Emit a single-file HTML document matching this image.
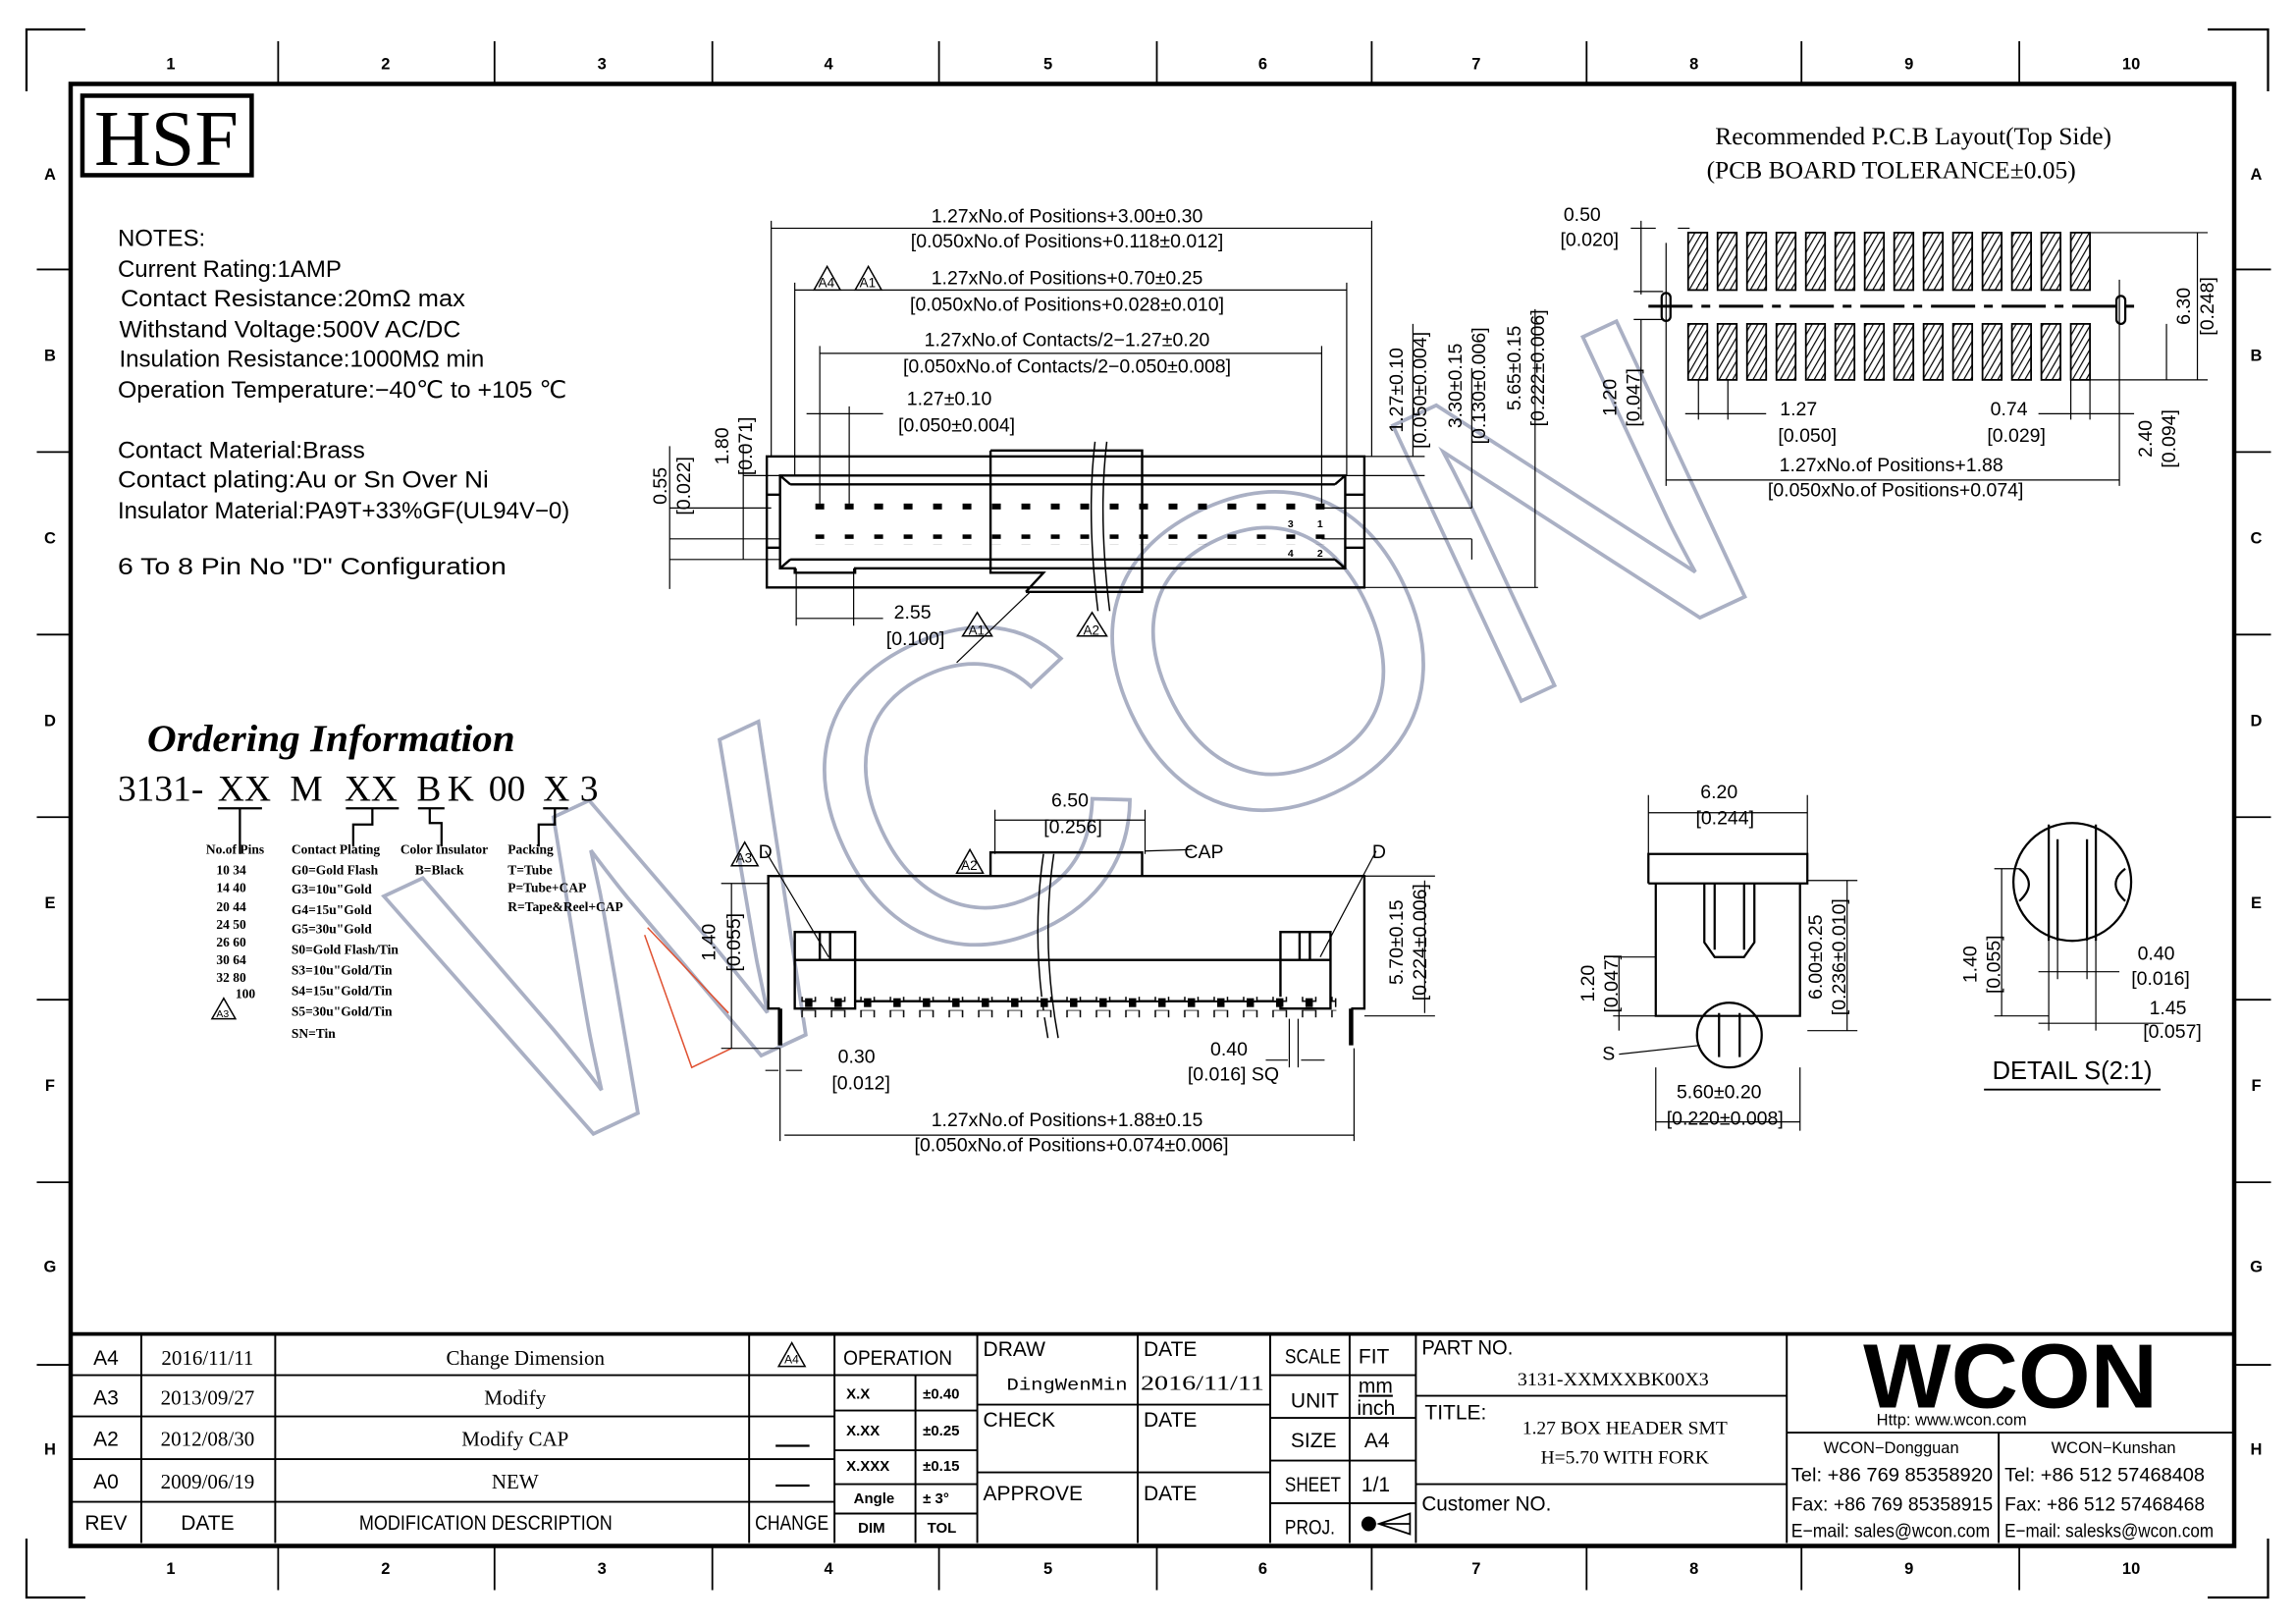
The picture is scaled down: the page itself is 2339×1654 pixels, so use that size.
<!DOCTYPE html>
<html><head><meta charset="utf-8"><style>
html,body{margin:0;padding:0;background:#fff;width:2339px;height:1654px;overflow:hidden}
svg{display:block}
text{font-family:"Liberation Sans Narrow","Liberation Sans",sans-serif;fill:#000}
.s{font-family:"Liberation Serif",serif}
</style></head><body>
<svg width="2339" height="1654" viewBox="0 0 1560 1103" preserveAspectRatio="none" xmlns="http://www.w3.org/2000/svg">
<defs>
<pattern id="pins" x="554" y="0" width="20" height="10" patternUnits="userSpaceOnUse"><rect x="0" y="0" width="6" height="6" fill="#000"/></pattern>
<pattern id="hatch" width="4" height="4" patternUnits="userSpaceOnUse" patternTransform="rotate(30)"><rect width="4" height="4" fill="#fff"/><line x1="0" y1="0" x2="0" y2="4" stroke="#000" stroke-width="1.6"/></pattern>
<pattern id="teeth" x="0" y="0" width="20" height="14" patternUnits="userSpaceOnUse"><rect x="5" y="0" width="9" height="8" fill="#fff" stroke="#000" stroke-width="1"/><rect x="7" y="6" width="5" height="6" fill="#000"/></pattern>
</defs>
<rect width="1560" height="1103" fill="#fff"/>
<g transform="translate(735,505) rotate(-25)"><text x="0" y="100" text-anchor="middle" font-size="300" style="font-family:'Liberation Sans',sans-serif;fill:none;stroke:#aab0c4;stroke-width:2.5">WCON</text></g>
<g stroke="#000" fill="none">
<path d="M18,62V20H58M1500,20H1541V62M18,1045V1085H58M1500,1085H1541V1045" stroke-width="1.5"/>
<rect x="48" y="57" width="1470" height="993" stroke-width="3"/>
<path d="M189,28V57M336,28V57M484,28V57M638,28V57M786,28V57M932,28V57M1078,28V57M1224,28V57M1372,28V57M189,1050V1080M336,1050V1080M484,1050V1080M638,1050V1080M786,1050V1080M932,1050V1080M1078,1050V1080M1224,1050V1080M1372,1050V1080" stroke-width="1.2"/>
<path d="M25,183H48M25,307H48M25,431H48M25,555H48M25,679H48M25,803H48M25,927H48M1518,183H1543M1518,307H1543M1518,431H1543M1518,555H1543M1518,679H1543M1518,803H1543M1518,927H1543" stroke-width="1.2"/>
<rect x="56" y="65" width="115" height="54" stroke-width="3"/>
</g>
<g font-size="11" font-weight="bold" text-anchor="middle">
<text x="116" y="47">1</text><text x="262" y="47">2</text><text x="409" y="47">3</text><text x="563" y="47">4</text><text x="712" y="47">5</text><text x="858" y="47">6</text><text x="1003" y="47">7</text><text x="1151" y="47">8</text><text x="1297" y="47">9</text><text x="1448" y="47">10</text>
<text x="116" y="1069">1</text><text x="262" y="1069">2</text><text x="409" y="1069">3</text><text x="563" y="1069">4</text><text x="712" y="1069">5</text><text x="858" y="1069">6</text><text x="1003" y="1069">7</text><text x="1151" y="1069">8</text><text x="1297" y="1069">9</text><text x="1448" y="1069">10</text>
<text x="34" y="122">A</text><text x="34" y="245">B</text><text x="34" y="369">C</text><text x="34" y="493">D</text><text x="34" y="617">E</text><text x="34" y="741">F</text><text x="34" y="864">G</text><text x="34" y="988">H</text>
<text x="1533" y="122">A</text><text x="1533" y="245">B</text><text x="1533" y="369">C</text><text x="1533" y="493">D</text><text x="1533" y="617">E</text><text x="1533" y="741">F</text><text x="1533" y="864">G</text><text x="1533" y="988">H</text>
</g>
<text class="s" x="113" y="112" font-size="54" text-anchor="middle" textLength="98" lengthAdjust="spacingAndGlyphs">HSF</text>
<g font-size="16">
<text x="80" y="167">NOTES:</text>
<text x="80" y="188" textLength="152" lengthAdjust="spacingAndGlyphs">Current  Rating:1AMP</text>
<text x="82" y="208" textLength="234" lengthAdjust="spacingAndGlyphs">Contact  Resistance:20mΩ  max</text>
<text x="81" y="229" textLength="232" lengthAdjust="spacingAndGlyphs">Withstand  Voltage:500V  AC/DC</text>
<text x="81" y="249" textLength="248" lengthAdjust="spacingAndGlyphs">Insulation  Resistance:1000MΩ min</text>
<text x="80" y="270" textLength="305" lengthAdjust="spacingAndGlyphs">Operation  Temperature:−40℃  to  +105 ℃</text>
<text x="80" y="311" textLength="168" lengthAdjust="spacingAndGlyphs">Contact  Material:Brass</text>
<text x="80" y="331" textLength="252" lengthAdjust="spacingAndGlyphs">Contact  plating:Au  or  Sn  Over  Ni</text>
<text x="80" y="352" textLength="307" lengthAdjust="spacingAndGlyphs">Insulator  Material:PA9T+33%GF(UL94V−0)</text>
<text x="80" y="390" textLength="264" lengthAdjust="spacingAndGlyphs">6  To  8  Pin  No  "D"  Configuration</text>
</g>
<text class="s" x="100" y="510" font-size="26" font-weight="bold" font-style="italic" textLength="250" lengthAdjust="spacingAndGlyphs">Ordering Information</text>
<g font-size="25">
<text class="s" x="80" y="544">3131-</text><text class="s" x="148" y="544">XX</text><text class="s" x="197" y="544">M</text><text class="s" x="234" y="544">XX</text><text class="s" x="283" y="544">B</text><text class="s" x="304" y="544">K</text><text class="s" x="332" y="544">00</text><text class="s" x="369" y="544">X</text><text class="s" x="394" y="544">3</text>
</g>
<g stroke="#000" stroke-width="1.5" fill="none">
<path d="M148,549H178M235,549H271M284,549H302M369,549H386"/>
<path d="M163,549V580M253,549V560H240V575M292,549V559H300V575M377,549V560H366V575"/>
</g>
<g font-size="9" font-weight="bold">
<text x="140" y="580" class="s">No.of Pins</text>
<text x="147" y="594" class="s">10  34</text><text x="147" y="606" class="s">14  40</text><text x="147" y="619" class="s">20  44</text><text x="147" y="631" class="s">24  50</text><text x="147" y="643" class="s">26  60</text><text x="147" y="655" class="s">30  64</text><text x="147" y="667" class="s">32  80</text><text x="160" y="678" class="s">100</text>
<text x="198" y="580" class="s">Contact Plating</text>
<text x="198" y="594" class="s">G0=Gold Flash</text><text x="198" y="607" class="s">G3=10u"Gold</text><text x="198" y="621" class="s">G4=15u"Gold</text><text x="198" y="634" class="s">G5=30u"Gold</text><text x="198" y="648" class="s">S0=Gold Flash/Tin</text><text x="198" y="662" class="s">S3=10u"Gold/Tin</text><text x="198" y="676" class="s">S4=15u"Gold/Tin</text><text x="198" y="690" class="s">S5=30u"Gold/Tin</text><text x="198" y="705" class="s">SN=Tin</text>
<text x="272" y="580" class="s">Color Insulator</text><text x="282" y="594" class="s">B=Black</text>
<text x="345" y="580" class="s">Packing</text><text x="345" y="594" class="s">T=Tube</text><text x="345" y="606" class="s">P=Tube+CAP</text><text x="345" y="619" class="s">R=Tape&amp;Reel+CAP</text>
</g>
<g fill="none" stroke="#000" stroke-width="1"><path d="M152,678L144,692H160Z"/></g><text x="147" y="691" font-size="7">A3</text>
<path d="M438,635L470,725L497,712M440,630L495,688" stroke="#e05030" stroke-width="1" fill="none"/>

<g stroke="#000" fill="none" stroke-width="1.6">
<rect x="521" y="310" width="406" height="89"/>
<path d="M530,323H914V386H581V389H540V386H530Z"/>
<path d="M537,329H907M537,380H907M530,323L537,329M914,323L907,329M530,386L537,380M914,386L907,380"/>
<path d="M521,336H530M521,372H530M914,336H927M914,372H927"/>
<path d="M673,306H776V402H697"/>
<path d="M673,306V389H709L697,402"/>
<path d="M744,300Q738,350 746,415M752,300Q746,350 754,415" stroke-width="1"/>
</g>
<rect x="551" y="342" width="350" height="7" fill="url(#pins)"/>
<rect x="551" y="363" width="350" height="7" fill="url(#pins)"/>
<g font-size="7" font-weight="bold"><text x="875" y="358">3</text><text x="895" y="358">1</text><text x="875" y="378">4</text><text x="895" y="378">2</text></g>
<g stroke="#000" stroke-width="0.8" fill="none">
<path d="M524,150V310M932,150V310M524,155H932M540,192V323M915,192V323M540,197H915M557,235V342M898,235V342M557,240H898M557,276V342M577,276V342M548,281H600"/>
<path d="M914,310H968M914,323H968M898,345H1000M898,366H1000M927,399H1045M960,220V310M1000,250V345M1000,366V380M1043,210V399"/>
<path d="M455,345H524M455,366H530M455,380H530M455,303V400M505,323H530M505,303V380M541,386V425M580,386V425M541,420H600"/>
<path d="M650,450L700,402"/>
</g>
<g font-size="13" text-anchor="middle">
<text x="725" y="151">1.27xNo.of Positions+3.00±0.30</text>
<text x="725" y="168">[0.050xNo.of Positions+0.118±0.012]</text>
<text x="725" y="193">1.27xNo.of Positions+0.70±0.25</text>
<text x="725" y="211">[0.050xNo.of Positions+0.028±0.010]</text>
<text x="725" y="235">1.27xNo.of Contacts/2−1.27±0.20</text>
<text x="725" y="253">[0.050xNo.of Contacts/2−0.050±0.008]</text>
<text x="645" y="275">1.27±0.10</text>
<text x="650" y="293">[0.050±0.004]</text>
<text x="620" y="420">2.55</text>
<text x="622" y="438">[0.100]</text>
<text transform="translate(953,265) rotate(-90)">1.27±0.10</text>
<text transform="translate(969,265) rotate(-90)">[0.050±0.004]</text>
<text transform="translate(993,262) rotate(-90)">3.30±0.15</text>
<text transform="translate(1009,262) rotate(-90)">[0.130±0.006]</text>
<text transform="translate(1033,250) rotate(-90)">5.65±0.15</text>
<text transform="translate(1049,250) rotate(-90)">[0.222±0.006]</text>
<text transform="translate(453,330) rotate(-90)">0.55</text>
<text transform="translate(469,330) rotate(-90)">[0.022]</text>
<text transform="translate(495,303) rotate(-90)">1.80</text>
<text transform="translate(511,303) rotate(-90)">[0.071]</text>
</g>
<g fill="none" stroke="#000" stroke-width="1"><path d="M562,181L553,197H571ZM590,181L581,197H599ZM664,416L654,432H674ZM742,416L732,432H752Z"/></g>
<g font-size="9"><text x="556" y="195">A4</text><text x="584" y="195">A1</text><text x="658" y="431">A1</text><text x="736" y="431">A2</text></g>

<g stroke="#000" fill="none" stroke-width="1.6">
<path d="M530,685H522V595H927V685H918"/>
<path d="M673,595V579H776V595"/>
<rect x="540" y="633" width="41" height="52"/><rect x="870" y="633" width="34" height="52"/>
<path d="M540,652H581M870,652H904M581,652H870M557,633V652M564,633V652M883,633V652M890,633V652"/>
<path d="M581,680H870"/>
<path d="M530,685V710M918,685V710" stroke-width="3"/>
<path d="M709,580Q700,640 712,705M716,580Q707,640 719,705" stroke-width="1"/>
</g>
<rect x="540" y="677" width="368" height="14" fill="url(#teeth)"/>
<g stroke="#000" stroke-width="0.8" fill="none">
<path d="M676,550V580M778,550V580M676,557H778M778,578L810,577M520,578L563,650M935,578L897,650"/>
<path d="M927,595H975M927,690H975M968,598V688M497,600V712M490,600H522M490,712H530"/>
<path d="M530,712V775M920,712V775M533,771H920M520,727H529M534,727H545"/>
<path d="M876,692V725M882,692V725M860,720H875M884,720H900"/>
</g>
<g font-size="13" text-anchor="middle">
<text x="727" y="548">6.50</text><text x="729" y="566">[0.256]</text>
<text x="818" y="583">CAP</text>
<text x="520" y="583">D</text><text x="937" y="583">D</text>
<text x="582" y="722">0.30</text><text x="585" y="740">[0.012]</text>
<text x="835" y="717">0.40</text><text x="838" y="734">[0.016] SQ</text>
<text x="725" y="765">1.27xNo.of Positions+1.88±0.15</text>
<text x="728" y="782">[0.050xNo.of Positions+0.074±0.006]</text>
<text transform="translate(953,640) rotate(-90)">5.70±0.15</text>
<text transform="translate(969,640) rotate(-90)">[0.224±0.006]</text>
<text transform="translate(486,640) rotate(-90)">1.40</text>
<text transform="translate(503,640) rotate(-90)">[0.055]</text>
</g>
<g fill="none" stroke="#000" stroke-width="1"><path d="M506,572L497,588H515ZM659,577L650,593H668Z"/></g>
<g font-size="9"><text x="500" y="586">A3</text><text x="653" y="591">A2</text></g>

<text class="s" x="1300" y="98" font-size="17" text-anchor="middle">Recommended P.C.B Layout(Top Side)</text>
<text class="s" x="1285" y="121" font-size="17" text-anchor="middle">(PCB BOARD TOLERANCE±0.05)</text>
<g stroke="#000" stroke-width="1.2" fill="url(#hatch)">
<rect x="1147" y="158" width="13" height="39"/><rect x="1167" y="158" width="13" height="39"/><rect x="1187" y="158" width="13" height="39"/><rect x="1207" y="158" width="13" height="39"/><rect x="1227" y="158" width="13" height="39"/><rect x="1247" y="158" width="13" height="39"/><rect x="1267" y="158" width="13" height="39"/><rect x="1287" y="158" width="13" height="39"/><rect x="1307" y="158" width="13" height="39"/><rect x="1327" y="158" width="13" height="39"/><rect x="1347" y="158" width="13" height="39"/><rect x="1367" y="158" width="13" height="39"/><rect x="1387" y="158" width="13" height="39"/><rect x="1407" y="158" width="13" height="39"/>
<rect x="1147" y="220" width="13" height="38"/><rect x="1167" y="220" width="13" height="38"/><rect x="1187" y="220" width="13" height="38"/><rect x="1207" y="220" width="13" height="38"/><rect x="1227" y="220" width="13" height="38"/><rect x="1247" y="220" width="13" height="38"/><rect x="1267" y="220" width="13" height="38"/><rect x="1287" y="220" width="13" height="38"/><rect x="1307" y="220" width="13" height="38"/><rect x="1327" y="220" width="13" height="38"/><rect x="1347" y="220" width="13" height="38"/><rect x="1367" y="220" width="13" height="38"/><rect x="1387" y="220" width="13" height="38"/><rect x="1407" y="220" width="13" height="38"/>
</g>
<g stroke="#000" fill="none">
<path d="M1120,208H1455" stroke-width="2" stroke-dasharray="30,6,6,6"/>
<rect x="1129" y="199" width="6" height="19" rx="3" stroke-width="1.5"/><rect x="1438" y="201" width="6" height="19" rx="3" stroke-width="1.5"/>
<g stroke-width="0.8">
<path d="M1132,165V330M1440,190V330M1108,155H1125M1140,155H1148M1110,198H1130M1110,217H1130M1115,200V150M1115,217V285"/>
<path d="M1420,158H1500M1420,258H1500M1493,158V258M1420,258H1480M1472,220V258M1154,258V285M1174,258V285M1145,281H1200M1407,258V285M1420,258V285M1385,281H1450M1132,326H1440"/>
</g></g>
<g font-size="13" text-anchor="middle">
<text x="1075" y="150">0.50</text><text x="1080" y="167">[0.020]</text>
<text x="1222" y="282">1.27</text><text x="1228" y="300">[0.050]</text>
<text x="1365" y="282">0.74</text><text x="1370" y="300">[0.029]</text>
<text x="1285" y="320">1.27xNo.of Positions+1.88</text>
<text x="1288" y="337">[0.050xNo.of Positions+0.074]</text>
<text transform="translate(1098,270) rotate(-90)">1.20</text><text transform="translate(1114,270) rotate(-90)">[0.047]</text>
<text transform="translate(1488,208) rotate(-90)">6.30</text><text transform="translate(1504,208) rotate(-90)">[0.248]</text>
<text transform="translate(1462,298) rotate(-90)">2.40</text><text transform="translate(1478,298) rotate(-90)">[0.094]</text>
</g>

<g stroke="#000" fill="none" stroke-width="1.5">
<path d="M1120,600V580H1228V600H1120M1125,600V690H1223V600"/>
<path d="M1158,600V640L1165,650H1185L1192,640V600M1165,600V645M1185,600V645"/>
<circle cx="1175" cy="703" r="22"/><path d="M1168,688V718M1182,688V718"/>
</g>
<g stroke="#000" stroke-width="0.8" fill="none"><path d="M1120,540V580M1228,540V580M1120,552H1228M1228,598H1262M1228,700H1262M1255,598V700M1100,650V700M1096,650H1125M1096,690H1125M1100,716L1155,710M1125,725V768M1223,725V768M1125,762H1223"/></g>
<g font-size="13" text-anchor="middle">
<text x="1168" y="542">6.20</text><text x="1172" y="560">[0.244]</text>
<text x="1093" y="720">S</text>
<text x="1168" y="746">5.60±0.20</text><text x="1172" y="764">[0.220±0.008]</text>
<text transform="translate(1238,650) rotate(-90)">6.00±0.25</text><text transform="translate(1254,650) rotate(-90)">[0.236±0.010]</text>
<text transform="translate(1083,668) rotate(-90)">1.20</text><text transform="translate(1099,668) rotate(-90)">[0.047]</text>
</g>
<g stroke="#000" fill="none" stroke-width="1.5">
<circle cx="1408" cy="599" r="40"/>
<path d="M1392,560V639M1424,560V639M1398,570V639M1418,570V639M1372,590Q1385,600 1372,612M1444,590Q1431,600 1444,612"/>
</g>
<g stroke="#000" stroke-width="0.8" fill="none"><path d="M1360,590V690M1355,590H1372M1355,690H1392M1398,639V665M1418,639V665M1385,660H1440M1392,639V700M1424,639V700M1385,695H1470"/></g>
<g font-size="13" text-anchor="middle">
<text x="1465" y="652">0.40</text><text x="1468" y="669">[0.016]</text>
<text x="1473" y="689">1.45</text><text x="1476" y="705">[0.057]</text>
<text transform="translate(1343,655) rotate(-90)">1.40</text><text transform="translate(1359,655) rotate(-90)">[0.055]</text>
<text x="1408" y="733" font-size="17">DETAIL  S(2:1)</text>
</g>
<path d="M1348,740H1468" stroke="#000" stroke-width="1.2"/>

<g stroke="#000" fill="none" stroke-width="1.3">
<path d="M48,906H1518" stroke-width="2.5"/>
<path d="M48,934H664M48,962H567M48,991H567M48,1020H567M96,906V1048M187,906V1048M509,906V1048M567,906V1048M664,906V1048"/>
<path d="M567,934H664M567,958H664M567,985H664M567,1008H664M567,1028H664M622,934V1048"/>
<path d="M664,954H863M664,1000H863M773,906V1048M863,906V1048M917,906V1048M962,906V1048"/>
<path d="M863,934H962M863,963H962M863,992H962M863,1021H962"/>
<path d="M962,948H1214M962,1008H1214M1214,906V1048M1214,973H1518M1358,973V1048"/>
</g>
<g font-size="14" text-anchor="middle">
<text x="72" y="927">A4</text><text x="141" y="927" class="s">2016/11/11</text><text x="357" y="927" class="s">Change Dimension</text>
<text x="72" y="954">A3</text><text x="141" y="954" class="s">2013/09/27</text><text x="350" y="954" class="s">Modify</text>
<text x="72" y="982">A2</text><text x="141" y="982" class="s">2012/08/30</text><text x="350" y="982" class="s">Modify CAP</text>
<text x="72" y="1011">A0</text><text x="141" y="1011" class="s">2009/06/19</text><text x="350" y="1011" class="s">NEW</text>
<text x="72" y="1039">REV</text><text x="141" y="1039">DATE</text><text x="330" y="1039" textLength="172" lengthAdjust="spacingAndGlyphs">MODIFICATION DESCRIPTION</text><text x="538" y="1039" textLength="50" lengthAdjust="spacingAndGlyphs">CHANGE</text>
<text x="610" y="927" textLength="74" lengthAdjust="spacingAndGlyphs">OPERATION</text>
</g>
<path d="M527,982H550M527,1009H550" stroke="#000" stroke-width="1.5"/>
<path d="M538,912L529,928H547Z" fill="none" stroke="#000"/><text x="533" y="926" font-size="8">A4</text>
<g font-size="10" font-weight="bold">
<text x="575" y="950">X.X</text><text x="627" y="950">±0.40</text>
<text x="575" y="975">X.XX</text><text x="627" y="975">±0.25</text>
<text x="575" y="999">X.XXX</text><text x="627" y="999">±0.15</text>
<text x="580" y="1021">Angle</text><text x="627" y="1021">± 3°</text>
<text x="583" y="1041">DIM</text><text x="630" y="1041">TOL</text>
</g>
<g font-size="14">
<text x="668" y="921">DRAW</text><text x="777" y="921">DATE</text>
<text x="684" y="944" style="font-family:'Liberation Mono',monospace" font-size="12" textLength="82" lengthAdjust="spacingAndGlyphs">DingWenMin</text><text x="775" y="944" class="s" textLength="84" lengthAdjust="spacingAndGlyphs">2016/11/11</text>
<text x="668" y="969">CHECK</text><text x="777" y="969">DATE</text>
<text x="668" y="1019">APPROVE</text><text x="777" y="1019">DATE</text>
<text x="873" y="926" textLength="38" lengthAdjust="spacingAndGlyphs">SCALE</text><text x="923" y="926">FIT</text>
<text x="877" y="956">UNIT</text><text x="923" y="946" text-decoration="underline">mm</text><text x="922" y="961" textLength="26" lengthAdjust="spacingAndGlyphs">inch</text>
<text x="877" y="983">SIZE</text><text x="927" y="983">A4</text>
<text x="873" y="1013" textLength="38" lengthAdjust="spacingAndGlyphs">SHEET</text><text x="925" y="1013">1/1</text>
<text x="873" y="1042" textLength="34" lengthAdjust="spacingAndGlyphs">PROJ.</text>
<text x="966" y="920" textLength="62" lengthAdjust="spacingAndGlyphs">PART NO.</text>
<text x="1096" y="941" class="s" font-size="13" text-anchor="middle" textLength="130" lengthAdjust="spacingAndGlyphs">3131-XXMXXBK00X3</text>
<text x="968" y="964">TITLE:</text>
<text x="1104" y="974" text-anchor="middle" class="s" font-size="13">1.27 BOX HEADER SMT</text>
<text x="1104" y="994" text-anchor="middle" class="s" font-size="13">H=5.70 WITH FORK</text>
<text x="966" y="1026" textLength="88" lengthAdjust="spacingAndGlyphs">Customer NO.</text>
</g>
<circle cx="930" cy="1035" r="5" fill="#000"/><path d="M937,1035L958,1028V1042Z M937,1035H958" fill="none" stroke="#000" stroke-width="1.2"/>
<text x="1366" y="956" font-size="62" font-weight="bold" text-anchor="middle" textLength="200" lengthAdjust="spacingAndGlyphs" style="font-family:'Liberation Sans',sans-serif">WCON</text>
<g font-size="11" text-anchor="middle"><text x="1326" y="968">Http: www.wcon.com</text><text x="1285" y="987">WCON−Dongguan</text><text x="1436" y="987">WCON−Kunshan</text></g>
<g font-size="13">
<text x="1217" y="1006" textLength="137" lengthAdjust="spacingAndGlyphs">Tel: +86 769 85358920</text><text x="1362" y="1006" textLength="136" lengthAdjust="spacingAndGlyphs">Tel: +86 512 57468408</text>
<text x="1217" y="1026" textLength="137" lengthAdjust="spacingAndGlyphs">Fax: +86 769 85358915</text><text x="1362" y="1026" textLength="136" lengthAdjust="spacingAndGlyphs">Fax: +86 512 57468468</text>
<text x="1217" y="1044" textLength="135" lengthAdjust="spacingAndGlyphs">E−mail: sales@wcon.com</text><text x="1362" y="1044" textLength="142" lengthAdjust="spacingAndGlyphs">E−mail: salesks@wcon.com</text></g>
</svg>
</body></html>
